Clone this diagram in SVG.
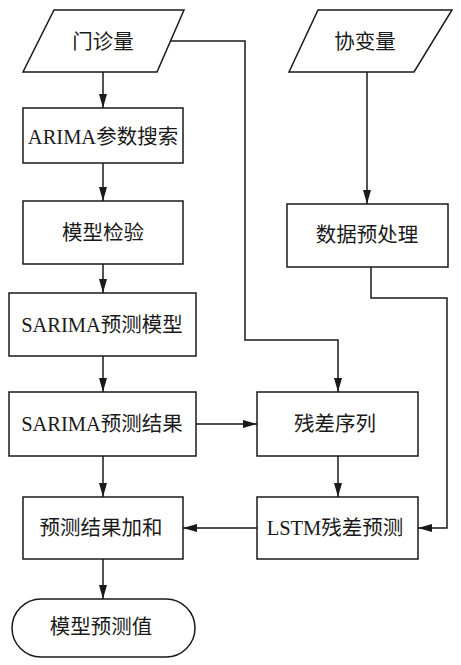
<svg xmlns="http://www.w3.org/2000/svg" width="461" height="665" viewBox="0 0 461 665">
<defs>
<marker id="ah" viewBox="0 0 14 8" refX="14" refY="4" markerWidth="14" markerHeight="8" markerUnits="userSpaceOnUse" orient="auto">
<path d="M0,0 L14,4 L0,8 Z" fill="#1a1a1a"/>
</marker>
</defs>
<style>
.s{fill:#fff;stroke:#1a1a1a;stroke-width:1.5}
.c{fill:none;stroke:#1a1a1a;stroke-width:1.5;marker-end:url(#ah)}
.t{font-family:"Liberation Serif","Noto Sans CJK SC",serif;font-size:20.5px;fill:#1a1a1a;text-anchor:middle}
</style>
<rect width="461" height="665" fill="#fff"/>
<g id="connectors">
<path class="c" d="M103,72 V108"/>
<path class="c" d="M103,163 V201"/>
<path class="c" d="M103,264 V293"/>
<path class="c" d="M103,356 V392"/>
<path class="c" d="M103,456 V497"/>
<path class="c" d="M103,559 V599"/>
<path class="c" d="M166,41 H245 V340 H338 V392"/>
<path class="c" d="M367,72 V204"/>
<path class="c" d="M371,267 V298 H447 V528 H418"/>
<path class="c" d="M196,424 H257"/>
<path class="c" d="M338,456 V497"/>
<path class="c" d="M257,528 H183"/>
</g>
<g id="n_menzhen"><polygon class="s" points="54,10 184,10 157,72 23,72"/><text class="t" x="103" y="49">门诊量</text></g>
<g id="n_xiebian"><polygon class="s" points="318,10 452,10 414,72 289,72"/><text class="t" x="365" y="49">协变量</text></g>
<g id="n_arima"><rect class="s" x="23" y="108" width="160" height="55"/><text class="t" x="103" y="144">ARIMA参数搜索</text></g>
<g id="n_jianyan"><rect class="s" x="23" y="201" width="160" height="63"/><text class="t" x="103" y="240">模型检验</text></g>
<g id="n_yuchuli"><rect class="s" x="287" y="204" width="161" height="63"/><text class="t" x="367" y="242">数据预处理</text></g>
<g id="n_sarima_model"><rect class="s" x="9" y="293" width="187" height="63"/><text class="t" x="102" y="332">SARIMA预测模型</text></g>
<g id="n_sarima_result"><rect class="s" x="9" y="392" width="187" height="64"/><text class="t" x="102" y="431">SARIMA预测结果</text></g>
<g id="n_residual"><rect class="s" x="257" y="392" width="161" height="64"/><text class="t" x="335" y="431">残差序列</text></g>
<g id="n_lstm"><rect class="s" x="257" y="497" width="161" height="62"/><text class="t" x="335" y="535">LSTM残差预测</text></g>
<g id="n_sum"><rect class="s" x="23" y="497" width="160" height="62"/><text class="t" x="101" y="535">预测结果加和</text></g>
<g id="n_output"><rect class="s" x="12" y="599" width="183" height="58" rx="29" ry="29"/><text class="t" x="101" y="634">模型预测值</text></g>
</svg>
